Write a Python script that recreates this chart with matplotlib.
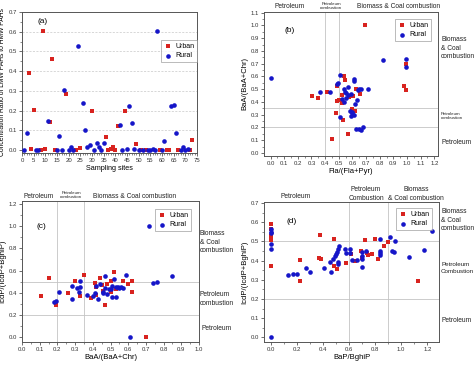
import matplotlib
matplotlib.use("Agg")
import matplotlib.pyplot as plt
from matplotlib.ticker import MultipleLocator

plt.rcParams['font.family'] = ['Liberation Sans', 'DejaVu Sans']

RED = "#d8231f"
BLUE = "#1515c8"

# ---- panel (a): ratio per sampling site
a_urban_site = [3, 4, 5, 8, 9, 10, 12, 13, 14, 19, 23, 25, 30, 36, 37, 38, 39, 40, 41, 44,
                49, 51, 53, 59, 62, 63, 67, 72, 73]
a_urban_val = [0.39, 0.003, 0.205, 0.0, 0.605, 0.007, 0.142, 0.46, 0.0, 0.286, 0.0, 0.01, 0.2,
               0.068, 0.0, 0.005, 0.017, 0.0, 0.121, 0.2, 0.031, 0.0, 0.0, 0.0, 0.0, 0.0, 0.0,
               0.0, 0.052]
a_rural_site = [1, 2, 6, 7, 11, 15, 16, 17, 18, 20, 21, 22, 24, 26, 27, 28, 29, 31, 32, 33, 34,
                35, 42, 43, 45, 46, 47, 48, 50, 52, 54, 55, 56, 57, 58, 60, 61, 64, 65, 66, 68,
                69, 70, 71]
a_rural_val = [0.0, 0.084, 0.0, 0.0, 0.145, 0.0, 0.073, 0.0, 0.302, 0.0, 0.015, 0.0, 0.528,
               0.239, 0.104, 0.017, 0.026, 0.0, 0.036, 0.015, 0.0, 0.034, 0.126, 0.0, 0.003,
               0.225, 0.137, 0.005, 0.0, 0.0, 0.0, 0.0, 0.005, 0.0, 0.605, 0.0, 0.044, 0.222,
               0.226, 0.084, 0.0, 0.013, 0.0, 0.003]

# ---- panel (b): Fla/(Fla+Pyr) vs BaA/(BaA+Chr)
b_urban_x = [0.695, 0.99, 0.98, 0.99, 0.305, 0.35, 0.412, 0.486, 0.50, 0.478, 0.45, 0.541,
             0.546, 0.52, 0.522, 0.488, 0.532, 0.566, 0.598, 0.61, 0.576, 0.603, 0.627, 0.656,
             0.62]
b_urban_y = [1.0, 0.694, 0.524, 0.497, 0.445, 0.432, 0.474, 0.526, 0.414, 0.317, 0.11, 0.603,
             0.571, 0.458, 0.388, 0.409, 0.262, 0.152, 0.348, 0.327, 0.44, 0.448, 0.5, 0.459,
             0.33]
b_rural_x = [0.0, 0.364, 0.437, 0.51, 0.488, 0.493, 0.507, 0.527, 0.541, 0.539, 0.545, 0.55,
             0.568, 0.59, 0.612, 0.61, 0.58, 0.59, 0.60, 0.615, 0.62, 0.63, 0.64, 0.65, 0.66,
             0.715, 0.627, 0.645, 0.66, 0.678, 0.822, 0.99, 0.99, 0.555, 0.57, 0.6]
b_rural_y = [0.586, 0.479, 0.474, 0.608, 0.537, 0.55, 0.285, 0.419, 0.396, 0.505, 0.48, 0.47,
             0.519, 0.466, 0.577, 0.563, 0.327, 0.288, 0.31, 0.296, 0.38, 0.415, 0.49, 0.5,
             0.505, 0.5, 0.19, 0.185, 0.178, 0.207, 0.728, 0.738, 0.675, 0.43, 0.455, 0.32]

# ---- panel (c): BaA/(BaA+Chr) vs IcdP/(IcdP+BghiP)
c_urban_x = [0.11, 0.155, 0.19, 0.26, 0.30, 0.33, 0.35, 0.39, 0.41, 0.42, 0.42, 0.44, 0.46,
             0.47, 0.48, 0.50, 0.50, 0.52, 0.53, 0.54, 0.57, 0.60, 0.62, 0.62, 0.70, 0.45]
c_urban_y = [0.37, 0.53, 0.29, 0.40, 0.51, 0.37, 0.56, 0.35, 0.49, 0.38, 0.45, 0.53, 0.42,
             0.29, 0.48, 0.41, 0.51, 0.59, 0.43, 0.44, 0.51, 0.48, 0.51, 0.41, 0.0, 0.47]
c_rural_x = [0.18, 0.19, 0.21, 0.28, 0.28, 0.31, 0.32, 0.33, 0.33, 0.37, 0.40, 0.41, 0.42,
             0.43, 0.44, 0.46, 0.46, 0.47, 0.47, 0.48, 0.49, 0.50, 0.51, 0.51, 0.52, 0.53,
             0.53, 0.54, 0.55, 0.56, 0.57, 0.59, 0.61, 0.72, 0.74, 0.76, 0.85]
c_rural_y = [0.32, 0.33, 0.41, 0.46, 0.34, 0.44, 0.41, 0.45, 0.51, 0.38, 0.37, 0.40, 0.46,
             0.34, 0.48, 0.40, 0.41, 0.44, 0.55, 0.39, 0.43, 0.43, 0.36, 0.46, 0.52, 0.45,
             0.36, 0.45, 0.44, 0.45, 0.44, 0.56, 0.0, 1.0, 0.49, 0.50, 0.555]

# ---- panel (d): BaP/BghiP vs IcdP/(IcdP+BghiP)
d_urban_x = [0.0, 0.0, 0.0, 0.0, 0.0, 0.375, 0.228, 0.222, 0.371, 0.383, 0.488, 0.483, 0.511,
             0.578, 0.616, 0.644, 0.69, 0.70, 0.72, 0.74, 0.75, 0.774, 0.797, 0.82, 0.869,
             0.90, 1.132]
d_urban_y = [0.589, 0.564, 0.529, 0.507, 0.371, 0.531, 0.401, 0.293, 0.415, 0.408, 0.514,
             0.371, 0.354, 0.387, 0.435, 0.40, 0.45, 0.415, 0.507, 0.44, 0.43, 0.434, 0.51,
             0.406, 0.477, 0.496, 0.295]
d_rural_x = [0.0, 0.0, 0.0, 0.0, 0.0, 0.0, 0.13, 0.171, 0.202, 0.274, 0.299, 0.406, 0.455,
             0.463, 0.478, 0.496, 0.503, 0.511, 0.516, 0.521, 0.516, 0.516, 0.572, 0.58,
             0.606, 0.61, 0.62, 0.662, 0.70, 0.70, 0.70, 0.70, 0.73, 0.835, 0.84, 0.84,
             0.84, 0.912, 0.933, 0.945, 0.956, 1.06, 1.175, 1.237]
d_rural_y = [0.0, 0.5625, 0.55, 0.542, 0.486, 0.458, 0.323, 0.33, 0.33, 0.361, 0.338, 0.363,
             0.39, 0.338, 0.408, 0.425, 0.432, 0.446, 0.458, 0.475, 0.395, 0.38, 0.461, 0.439,
             0.461, 0.439, 0.405, 0.404, 0.443, 0.423, 0.406, 0.365, 0.448, 0.449, 0.514,
             0.44, 0.43, 0.524, 0.448, 0.443, 0.503, 0.418, 0.456, 0.553]

W, H = 474, 366
fig = plt.figure(figsize=(W / 100, H / 100), dpi=100)


def box(l, t, r, b):
    return [l / W, 1 - b / H, (r - l) / W, (b - t) / H]


def ftext(x, y, s, size=4.8, ha="left", **kw):
    fig.text(x / W, 1 - y / H, s, fontsize=size, ha=ha, va="center",
             color="#222222", linespacing=1.3, **kw)


def style(ax, xmaj, xmin, ymaj, ymin):
    ax.xaxis.set_major_locator(MultipleLocator(xmaj))
    ax.xaxis.set_minor_locator(MultipleLocator(xmin))
    ax.yaxis.set_major_locator(MultipleLocator(ymaj))
    ax.yaxis.set_minor_locator(MultipleLocator(ymin))
    ax.tick_params(which="major", direction="out", length=2.2, width=0.5,
                   labelsize=4.3, pad=1.5, colors="#333333")
    ax.tick_params(which="minor", direction="out", length=1.2, width=0.4, colors="#333333")
    ax.tick_params(top=False, right=False, which="both")
    for sp in ax.spines.values():
        sp.set_linewidth(0.7)
        sp.set_color("#555555")


def points(ax, ux, uy, rx, ry):
    ax.scatter(ux, uy, marker="s", s=9, color=RED, label="Urban", zorder=3, linewidths=0)
    ax.scatter(rx, ry, marker="o", s=11, color=BLUE, label="Rural", zorder=3, linewidths=0)


def legend(ax, x, y):
    leg = ax.legend(loc="upper left", bbox_to_anchor=(x / W, 1 - y / H),
                    bbox_transform=fig.transFigure, fontsize=5, frameon=True,
                    fancybox=False, borderpad=0.4, handletextpad=0.6, labelspacing=0.3,
                    handlelength=1.0, markerscale=1.0)
    leg.get_frame().set_edgecolor("#888888")
    leg.get_frame().set_linewidth(0.5)


def refline(ax, v, axis="h"):
    if axis == "h":
        ax.axhline(v, color="#c4c4c4", lw=0.6, zorder=1)
    else:
        ax.axvline(v, color="#c4c4c4", lw=0.6, zorder=1)


# (a)
ax = fig.add_axes(box(22, 12, 197, 153))
ax.set_xlim(0, 75)
ax.set_ylim(-0.015, 0.7)
for v in [0.1, 0.2, 0.3, 0.4, 0.5, 0.6]:
    ax.axhline(v, color="#c8c8c8", lw=0.5, ls=(0, (3, 2)), zorder=1)
points(ax, a_urban_site, a_urban_val, a_rural_site, a_rural_val)
style(ax, 5, 1, 0.1, 0.05)
ax.set_xticks(range(0, 76, 5))
ax.set_yticks([0.0, 0.1, 0.2, 0.3, 0.4, 0.5, 0.6, 0.7])
ax.set_yticklabels(["0.0", "0.1", "0.2", "0.3", "0.4", "0.5", "0.6", "0.7"])
ax.set_xlabel("Sampling sites", fontsize=5.2, labelpad=1.5)
ax.set_ylabel("Concentration Ratio of LMW PAHs to HMW PAHs", fontsize=4.9, labelpad=1.5)
ax.text(0.09, 0.92, "(a)", transform=ax.transAxes, fontsize=6)
legend(ax, 158, 37)

# (b)
ax = fig.add_axes(box(264, 12, 438, 156))
ax.set_xlim(-0.048, 1.227)
ax.set_ylim(-0.024, 1.105)
refline(ax, 0.4, "v")
refline(ax, 0.5, "v")
refline(ax, 0.35)
refline(ax, 0.2)
points(ax, b_urban_x, b_urban_y, b_rural_x, b_rural_y)
style(ax, 0.1, 0.05, 0.1, 0.05)
ax.set_xlabel("Fla/(Fla+Pyr)", fontsize=5.5, labelpad=1.5)
ax.set_ylabel("BaA/(BaA+Chr)", fontsize=5.5, labelpad=1.5)
ax.text(0.12, 0.86, "(b)", transform=ax.transAxes, fontsize=6)
legend(ax, 392, 16)
ftext(290, 6, "Petroleum", ha="center")
ftext(331, 6, "Petroleum\ncombustion", size=3.2, ha="center")
ftext(399, 6, "Biomass & Coal combustion", ha="center")
ftext(441, 48, "Biomass\n& Coal\ncombustion")
ftext(441, 116, "Petroleum\ncombustion", size=3.2)
ftext(441, 142, "Petroleum")

# (c)
ax = fig.add_axes(box(22, 201, 199, 342))
ax.set_xlim(0, 1.0)
ax.set_ylim(-0.042, 1.225)
refline(ax, 0.2, "v")
refline(ax, 0.35, "v")
refline(ax, 0.5)
refline(ax, 0.2)
points(ax, c_urban_x, c_urban_y, c_rural_x, c_rural_y)
style(ax, 0.1, 0.05, 0.2, 0.1)
ax.set_xlabel("BaA/(BaA+Chr)", fontsize=5.5, labelpad=1.5)
ax.set_ylabel("IcdP/(IcdP+BghiP)", fontsize=5.5, labelpad=1.5)
ax.text(0.08, 0.81, "(c)", transform=ax.transAxes, fontsize=6)
legend(ax, 152, 206)
ftext(39, 196, "Petroleum", ha="center")
ftext(71, 195, "Petroleum\ncombustion", size=3.2, ha="center")
ftext(135, 196, "Biomass & Coal combustion", ha="center")
ftext(200, 242, "Biomass\n& Coal\ncombustion")
ftext(200, 299, "Petroleum\ncombustion")
ftext(202, 329, "Petroleum")

# (d)
ax = fig.add_axes(box(264, 202, 439, 342))
ax.set_xlim(-0.05, 1.29)
ax.set_ylim(-0.024, 0.705)
refline(ax, 0.6, "v")
refline(ax, 0.9, "v")
refline(ax, 0.5)
refline(ax, 0.2)
points(ax, d_urban_x, d_urban_y, d_rural_x, d_rural_y)
style(ax, 0.2, 0.1, 0.1, 0.05)
ax.set_xlabel("BaP/BghiP", fontsize=5.5, labelpad=1.5)
ax.set_ylabel("IcdP/(IcdP+BghiP)", fontsize=5.5, labelpad=1.5)
ax.text(0.13, 0.85, "(d)", transform=ax.transAxes, fontsize=6)
legend(ax, 393, 205)
ftext(296, 196, "Petroleum", ha="center")
ftext(366, 194, "Petroleum\nCombustion", ha="center")
ftext(416, 194, "Biomass\n& Coal combustion", ha="center")
ftext(441, 220, "Biomass\n& Coal\ncombustion")
ftext(441, 268, "Petroleum\nCombustion", size=4.5)
ftext(441, 320, "Petroleum")

fig.savefig("out.png", dpi=100)
